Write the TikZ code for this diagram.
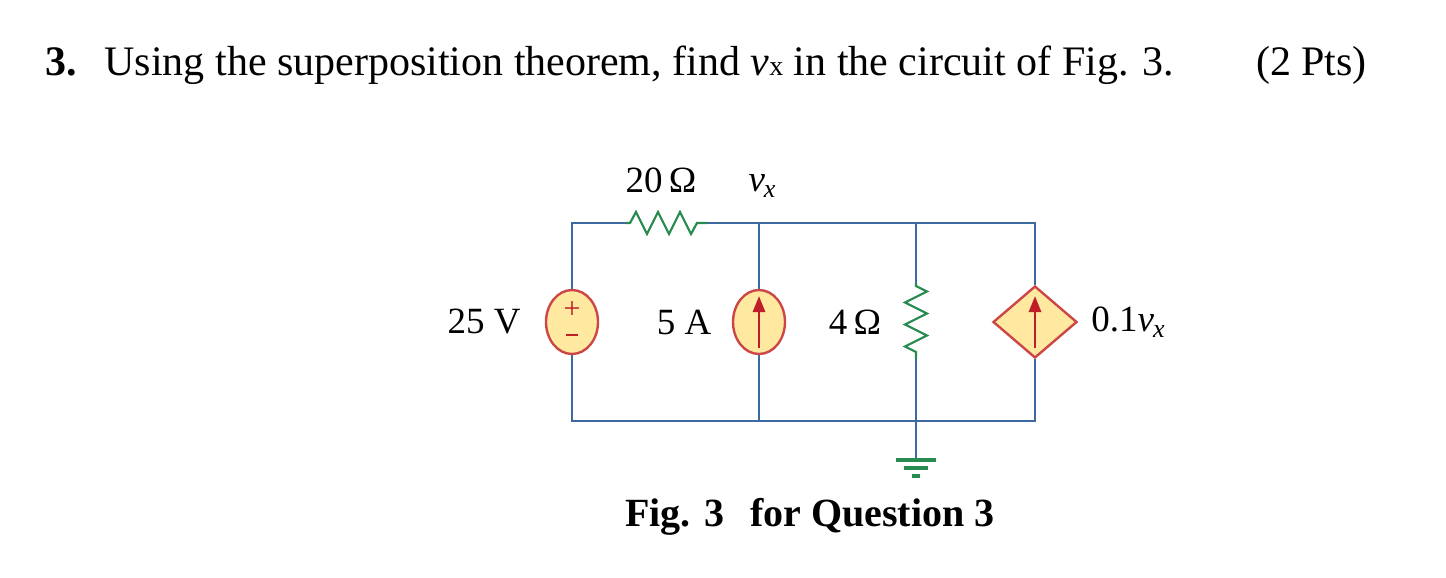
\documentclass[tikz,border=0pt]{standalone}
\usepackage{fontspec}
\setmainfont{Liberation Serif}
\usetikzlibrary{shapes.geometric,arrows.meta}
\definecolor{wire}{RGB}{60,105,160}
\definecolor{resc}{RGB}{40,140,80}
\definecolor{srcfill}{RGB}{255,232,160}
\definecolor{srcline}{RGB}{205,70,70}
\definecolor{arr}{RGB}{190,30,40}
\tikzset{
  w/.style={draw=wire,line width=1.3pt},
  src/.style={ellipse,draw=srcline,fill=srcfill,line width=1.2pt,minimum width=26pt,minimum height=32pt,inner sep=0pt},
  dsrc/.style={diamond,draw=srcline,fill=srcfill,line width=1.2pt,minimum width=42pt,minimum height=36pt,inner sep=0pt},
  res/.style={draw=resc,line width=1.1pt},
  lbl/.style={font=\fontsize{18.5}{22}\selectfont},
  arrw/.style={draw=arr,line width=1.4pt,-{Triangle[length=8pt,width=6pt]}}
}
\begin{document}
\begin{tikzpicture}[x=0.5pt,y=-0.5pt]
\useasboundingbox (0,0) rectangle (1446,578);
\node[anchor=base west,font=\fontsize{21}{26}\selectfont] (title) at (38,75) {\textbf{3.}\hspace{14pt}Using the superposition theorem, find {\itshape v}{\fontsize{14}{18}\selectfont x} in the circuit of Fig. 3.};
\node[anchor=base east,font=\fontsize{21}{26}\selectfont] (pts) at (1374,75) {(2 Pts)};
% coordinates
\coordinate (tl) at (572,223); \coordinate (tn) at (759,223); \coordinate (tr4) at (916,223); \coordinate (tr) at (1035,223);
\coordinate (bl) at (572,421); \coordinate (bn) at (759,421); \coordinate (b4) at (916,421); \coordinate (br) at (1035,421);
\coordinate (ra) at (626,223); \coordinate (rb) at (707,223);
\coordinate (r4a) at (916,283); \coordinate (r4b) at (916,359);
\coordinate (g) at (916,460);
\node[src] (v25) at (572,322) {};
\node[src] (i5) at (759,322) {};
\node[dsrc] (dep) at (1035,322) {};
% wires
\draw[w] (v25.north) -- (tl) -- (ra);
\draw[w] (rb) -- (tr) -- (dep.north);
\draw[w] (tn) -- (i5.north);
\draw[w] (tr4) -- (r4a);
\draw[w] (r4b) -- (b4) -- (g);
\draw[w] (v25.south) -- (bl) -- (br) -- (dep.south);
\draw[w] (i5.south) -- (bn);
% 20 ohm resistor
\draw[res] (ra) -- ++(4,0) -- ++(6,-11) -- ++(11,22) -- ++(11,-22) -- ++(11,22) -- ++(11,-22) -- ++(11,22) -- ++(6,-11) -- (rb);
% 4 ohm
\draw[res] (r4a) -- ++(0,3) -- ++(11,5.5) -- ++(-22,11) -- ++(22,11) -- ++(-22,11) -- ++(22,11) -- ++(-22,11) -- ++(11,5.5) -- (r4b);
% ground
\draw[resc,line width=1.6pt] (896,460) -- (936,460) (904,468) -- (928,468) (912,476) -- (920,476);
% source marks
\node[text=arr,font=\fontsize{15}{15}\selectfont,inner sep=0pt] (plus) at (572,310) {+};
\draw[arr,line width=1.3pt] (566,335) -- (578,335);
\draw[arrw] (759,348) -- (759,296);
\draw[arrw] (1035,348) -- (1035,296);
% labels
\node[lbl] (l20) at (661,180) {20\,Ω};
\node[lbl] (lvx) at (762,186) {\itshape v\kern-0.5pt\raisebox{-3pt}{\fontsize{13}{13}\selectfont x}};
\node[lbl] (l25) at (484,322) {25 V};
\node[lbl] (l5) at (684,322) {5 A};
\node[lbl] (l4) at (855,322) {4\,Ω};
\node[lbl] (ldep) at (1128,322) {0.1{\itshape v}\kern-0.5pt\raisebox{-3pt}{\fontsize{13}{13}\selectfont\itshape x}};
\node[font=\bfseries\fontsize{20}{24}\selectfont] (cap) at (810,517) {Fig. 3\hspace{8pt} for Question 3};
\end{tikzpicture}
\end{document}
